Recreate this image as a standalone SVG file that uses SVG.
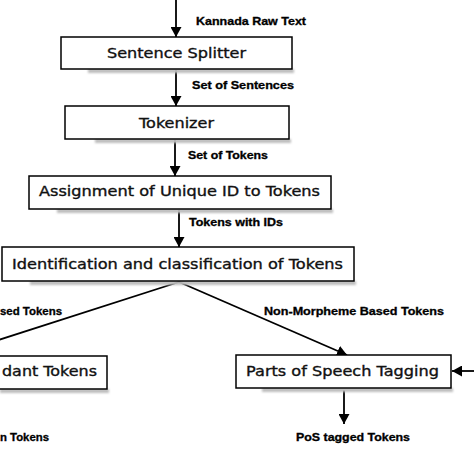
<svg xmlns="http://www.w3.org/2000/svg" width="474" height="474" viewBox="0 0 474 474">
<style>
.box{fill:#fff;stroke:#000;stroke-width:1.5}
.shadow{fill:#bdbdbd}
.bt{font-family:"DejaVu Sans",Verdana,sans-serif;font-size:14px;fill:#111;stroke:#111;stroke-width:0.35}
.lb{font-family:"Liberation Sans",Arial,sans-serif;font-size:10.5px;font-weight:bold;fill:#000;stroke:#000;stroke-width:0.3}
.ln{stroke:#000;stroke-width:1.8;fill:none}
</style>
<defs>
<marker id="ah" markerUnits="userSpaceOnUse" markerWidth="10" markerHeight="11" refX="10" refY="5.5" orient="auto">
<path d="M0,0 L10,5.5 L0,11 z" fill="#000"/>
</marker>
<filter id="blur" x="-10%" y="-50%" width="120%" height="200%"><feGaussianBlur stdDeviation="1"/></filter>
</defs>
<rect width="474" height="474" fill="#fff"/>
<g id="connectors">
<line class="ln" x1="176" y1="0" x2="176" y2="37" marker-end="url(#ah)"/>
<line class="ln" x1="176" y1="70" x2="176" y2="106" marker-end="url(#ah)"/>
<line class="ln" x1="175" y1="140" x2="175" y2="176" marker-end="url(#ah)"/>
<line class="ln" x1="179" y1="210" x2="179" y2="247" marker-end="url(#ah)"/>
<line class="ln" x1="179" y1="282" x2="-20" y2="346"/>
<line class="ln" x1="179" y1="282" x2="347" y2="355" marker-end="url(#ah)"/>
<line class="ln" x1="476" y1="371" x2="452" y2="371" marker-end="url(#ah)"/>
<line class="ln" x1="344" y1="390" x2="344" y2="424" marker-end="url(#ah)"/>
<text class="lb" x="196" y="25" textLength="110" lengthAdjust="spacingAndGlyphs">Kannada Raw Text</text>
<text class="lb" x="192" y="89" textLength="102" lengthAdjust="spacingAndGlyphs">Set of Sentences</text>
<text class="lb" x="188" y="159" textLength="80" lengthAdjust="spacingAndGlyphs">Set of Tokens</text>
<text class="lb" x="189" y="226" textLength="94" lengthAdjust="spacingAndGlyphs">Tokens with IDs</text>
<text class="lb" x="0" y="315" textLength="62" lengthAdjust="spacingAndGlyphs">sed Tokens</text>
<text class="lb" x="264" y="315" textLength="180" lengthAdjust="spacingAndGlyphs">Non-Morpheme Based Tokens</text>
<text class="lb" x="0" y="441" textLength="49" lengthAdjust="spacingAndGlyphs">n Tokens</text>
<text class="lb" x="296" y="441" textLength="114" lengthAdjust="spacingAndGlyphs">PoS tagged Tokens</text>
</g>
<g id="sentence-splitter">
<rect class="shadow" x="88" y="69" width="206" height="4" filter="url(#blur)"/>
<rect class="box" x="61" y="37" width="231" height="32"/>
<text class="bt" x="107" y="58" textLength="139" lengthAdjust="spacingAndGlyphs">Sentence Splitter</text>
</g>
<g id="tokenizer">
<rect class="shadow" x="95" y="139" width="196" height="4" filter="url(#blur)"/>
<rect class="box" x="65" y="106" width="224" height="33"/>
<text class="bt" x="139" y="128" textLength="75" lengthAdjust="spacingAndGlyphs">Tokenizer</text>
</g>
<g id="assignment">
<rect class="shadow" x="57" y="209" width="276" height="4" filter="url(#blur)"/>
<rect class="box" x="29" y="176" width="302" height="33"/>
<text class="bt" x="39" y="196" textLength="281" lengthAdjust="spacingAndGlyphs">Assignment of Unique ID to Tokens</text>
</g>
<g id="identification">
<rect class="shadow" x="30" y="281" width="326" height="4" filter="url(#blur)"/>
<rect class="box" x="2" y="247" width="352" height="34"/>
<text class="bt" x="12" y="269" textLength="331" lengthAdjust="spacingAndGlyphs">Identification and classification of Tokens</text>
</g>
<g id="redundant-tokens">
<rect class="shadow" x="0" y="389" width="109" height="4" filter="url(#blur)"/>
<rect class="box" x="-20" y="356" width="127" height="33"/>
<text class="bt" x="2" y="376" textLength="95" lengthAdjust="spacingAndGlyphs">dant Tokens</text>
</g>
<g id="pos-tagging">
<rect class="shadow" x="262" y="388" width="191" height="4" filter="url(#blur)"/>
<rect class="box" x="236" y="355" width="215" height="33"/>
<text class="bt" x="246" y="376" textLength="193" lengthAdjust="spacingAndGlyphs">Parts of Speech Tagging</text>
</g>
</svg>
